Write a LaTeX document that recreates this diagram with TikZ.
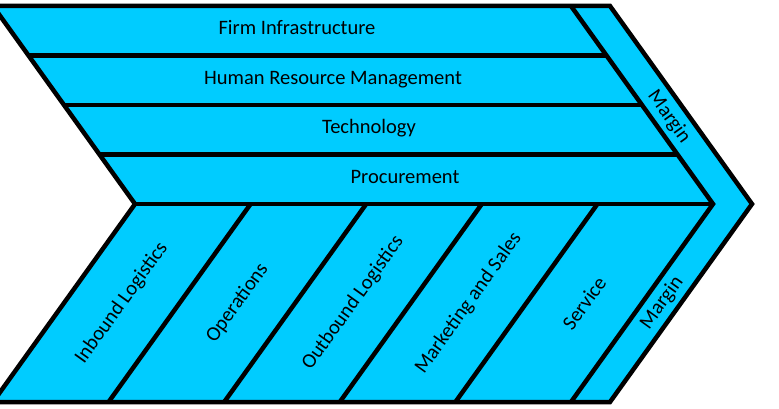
\documentclass[tikz,border=0pt]{standalone}
\usepackage{fontspec}
\setmainfont{Carlito}
\usetikzlibrary{calc}
\definecolor{chain}{RGB}{0,204,255}

\begin{document}
\begin{tikzpicture}[x=1pt,y=-1pt,line width=4.5pt,
                    label/.style={font=\fontsize{20.5}{24}\selectfont,inner sep=0pt},
                    up/.style={label,rotate=54.35},
                    down/.style={label,rotate=-54.35}]
  \useasboundingbox (0,0) rectangle (779,409);

  % outline of the chain
  \coordinate (tl)    at (-7,6);
  \coordinate (notch) at (135,204);
  \coordinate (bl)    at (-7,402);
  \coordinate (tr)    at (610,6);
  \coordinate (tip)   at (752,204);
  \coordinate (br)    at (610,402);
  \coordinate (mtop)  at (571,6);
  \coordinate (mtip)  at (713,204);
  \coordinate (mbot)  at (571,402);

  \filldraw[fill=chain] (tl) -- (tr) -- (tip) -- (br) -- (bl) -- (notch) -- cycle;
  \draw (mtop) -- (mtip) -- (mbot);
  \draw (notch) -- (mtip);

  % support activities
  \foreach \t in {0.25,0.5,0.75}
    \draw ($(tl)!\t!(notch)$) -- ($(mtop)!\t!(mtip)$);

  % primary activities
  \foreach \t in {0.2,0.4,0.6,0.8}
    \draw ($(notch)!\t!(mtip)$) -- ($(bl)!\t!(mbot)$);

  \node[label,anchor=base] (firm) at (297,35)  {Firm Infrastructure};
  \node[label,anchor=base] (hrm)  at (333,84.5) {Human Resource Management};
  \node[label,anchor=base] (tech) at (369,134) {Technology};
  \node[label,anchor=base] (proc) at (405,183.5) {Procurement};

  \node[down] (mup)  at (669,117) {Margin};

  \node[up] (inb)  at (121.8,303) {Inbound Logistics};
  \node[up] (ops)  at (237.4,303) {Operations};
  \node[up] (outb) at (353,303)   {Outbound Logistics};
  \node[up] (mkt)  at (468.6,303) {Marketing and Sales};
  \node[up] (serv) at (584.2,303) {Service};
  \node[up] (mlow) at (662,303)   {Margin};
\end{tikzpicture}
\end{document}
